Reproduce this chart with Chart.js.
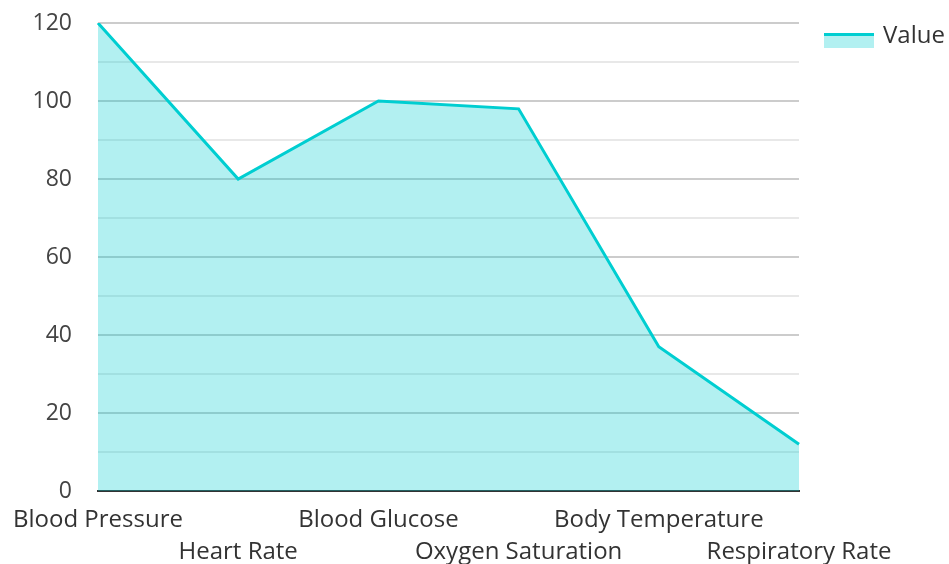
<!DOCTYPE html>
<html>
<head>
<meta charset="utf-8">
<script src="https://cdn.jsdelivr.net/npm/chart.js@4/dist/chart.umd.min.js"></script>
<style>
  html, body { margin: 0; padding: 0; background: #fff; }
  #wrap { width: 949px; height: 564px; }
</style>
</head>
<body>
<div id="wrap"><canvas id="chart"></canvas></div>
<script>
// Datos del gráfico
const categories = ["Blood Pressure", "Heart Rate", "Blood Glucose", "Oxygen Saturation", "Body Temperature", "Respiratory Rate"];
const values = [120, 80, 100, 98, 37, 12];
const seriesName = "Value";

const lineColor = "#00CED1";
const fillColor = "rgba(0, 206, 209, 0.3)";

// Leyenda dibujada a mano (caja con linea arriba + texto)
const customLegend = {
  id: "customLegend",
  afterDraw(chart) {
    const ctx = chart.ctx;
    const x = chart.chartArea.right + 25;
    const y = 33;
    ctx.save();
    ctx.fillStyle = fillColor;
    ctx.fillRect(x, y, 50, 15);
    ctx.strokeStyle = lineColor;
    ctx.lineWidth = 3;
    ctx.beginPath();
    ctx.moveTo(x, y + 1.5);
    ctx.lineTo(x + 50, y + 1.5);
    ctx.stroke();
    ctx.fillStyle = "#333";
    ctx.font = "24px 'Open Sans'";
    ctx.textBaseline = "alphabetic";
    ctx.fillText(chart.data.datasets[0].label, x + 59, 43);
    ctx.restore();
  },
};

new Chart(document.getElementById("chart"), {
  type: "line",
  data: {
    labels: categories,
    datasets: [
      {
        label: seriesName,
        data: values,
        borderColor: lineColor,
        backgroundColor: fillColor,
        borderWidth: 3,
        fill: "origin",
        tension: 0,
        pointRadius: 0,
        pointHoverRadius: 0,
      },
    ],
  },
  options: {
    responsive: true,
    maintainAspectRatio: false,
    animation: false,
    layout: { padding: { left: 11, top: 0, right: 150, bottom: -17 } },
    plugins: {
      tooltip: { enabled: false },
      legend: { display: false },
    },
    scales: {
      x: {
        z: 1, // eje encima del relleno
        offset: false,
        grid: { display: false, drawTicks: false },
        border: { display: true, color: "#333", width: 2 },
        ticks: {
          autoSkip: false,
          maxRotation: 0,
          padding: 13,
          color: "#333",
          font: { family: "'Open Sans'", size: 24, lineHeight: 1.33 },
          callback: function (value, index) {
            const label = this.getLabelForValue(value);
            return index % 2 === 1 ? ["", label] : label;
          },
        },
      },
      y: {
        min: 0,
        max: 120,
        afterFit: (scale) => {
          scale.width = 86;
          scale.paddingTop = 23;
          scale.paddingBottom = 0;
        },
        border: { display: false },
        grid: {
          drawTicks: false,
          lineWidth: 2,
          color: (ctx) => (ctx.tick && ctx.tick.value % 20 === 0 ? "#cccccc" : "#e8e8e8"),
        },
        ticks: {
          stepSize: 10,
          padding: 26,
          color: "#444",
          font: { family: "'Open Sans'", size: 23 },
          callback: (v) => (v % 20 === 0 ? v : ""),
        },
      },
    },
  },
  plugins: [customLegend],
});
</script>
</body>
</html>
